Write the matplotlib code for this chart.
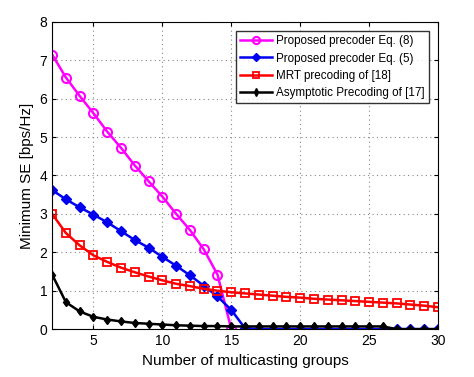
import numpy as np
import matplotlib.pyplot as plt

plt.rcParams['font.family'] = ['Liberation Sans', 'DejaVu Sans']

groups = list(range(2, 31))
groups_eq8 = list(range(2, 16))

se_eq8 = [7.15, 6.55, 6.07, 5.62, 5.14, 4.72, 4.26, 3.85, 3.45, 3.00, 2.58, 2.08, 1.42, 0.0]
se_eq5 = [3.62, 3.38, 3.17, 2.98, 2.78, 2.55, 2.32, 2.12, 1.88, 1.65, 1.40, 1.13, 0.85, 0.50,
          0.02, 0.0, 0.0, 0.0, 0.0, 0.0, 0.0, 0.0, 0.0, 0.0, 0.0, 0.0, 0.0, 0.0, 0.0]
se_mrt = [3.00, 2.50, 2.18, 1.92, 1.75, 1.60, 1.48, 1.37, 1.27, 1.18, 1.12, 1.05, 1.00, 0.96,
          0.93, 0.90, 0.87, 0.84, 0.82, 0.79, 0.77, 0.75, 0.73, 0.71, 0.69, 0.67, 0.64, 0.61, 0.57]
se_asym = [1.42, 0.70, 0.46, 0.32, 0.25, 0.20, 0.16, 0.14, 0.12, 0.10, 0.09, 0.08, 0.08, 0.07,
           0.07, 0.07, 0.07, 0.07, 0.07, 0.07, 0.07, 0.07, 0.07, 0.07, 0.07, 0.0, 0.0, 0.0, 0.0]

fig = plt.figure(figsize=(4.74, 3.77), dpi=100)
ax = fig.add_axes([0.11, 0.127, 0.814, 0.815])

ax.plot(groups_eq8, se_eq8, color='#ff00ff', lw=1.8, marker='o', ms=6.5, mfc='none', mew=1.5,
        label='Proposed precoder Eq. (8)')
ax.plot(groups, se_eq5, color='#0000ee', lw=1.8, marker='D', ms=5, mfc='#0000ee',
        label='Proposed precoder Eq. (5)')
ax.plot(groups, se_mrt, color='#ff0000', lw=1.8, marker='s', ms=6, mfc='none', mew=1.3,
        label='MRT precoding of [18]')
ax.plot(groups, se_asym, color='black', lw=1.8, marker='d', ms=4.5, mfc='black',
        label='Asymptotic Precoding of [17]')

ax.set_xlim(2, 30)
ax.set_ylim(0, 8)
ax.set_xticks([5, 10, 15, 20, 25, 30])
ax.set_yticks(range(0, 9))
ax.grid(True, linestyle=(0, (1, 3)), color='#888888', lw=0.8)
ax.tick_params(labelsize=10, direction='in', length=3, top=True, right=True)
ax.set_xlabel('Number of multicasting groups', fontsize=11)
ax.set_ylabel('Minimum SE [bps/Hz]', fontsize=11)
leg = ax.legend(loc='upper right', fontsize=8.4, frameon=True, fancybox=False,
                edgecolor='black', handlelength=2.8, borderpad=0.35, labelspacing=0.45,
                handletextpad=0.3, borderaxespad=0.8, markerscale=0.8)
leg.get_frame().set_linewidth(1.0)

fig.savefig('out.png', dpi=100)
